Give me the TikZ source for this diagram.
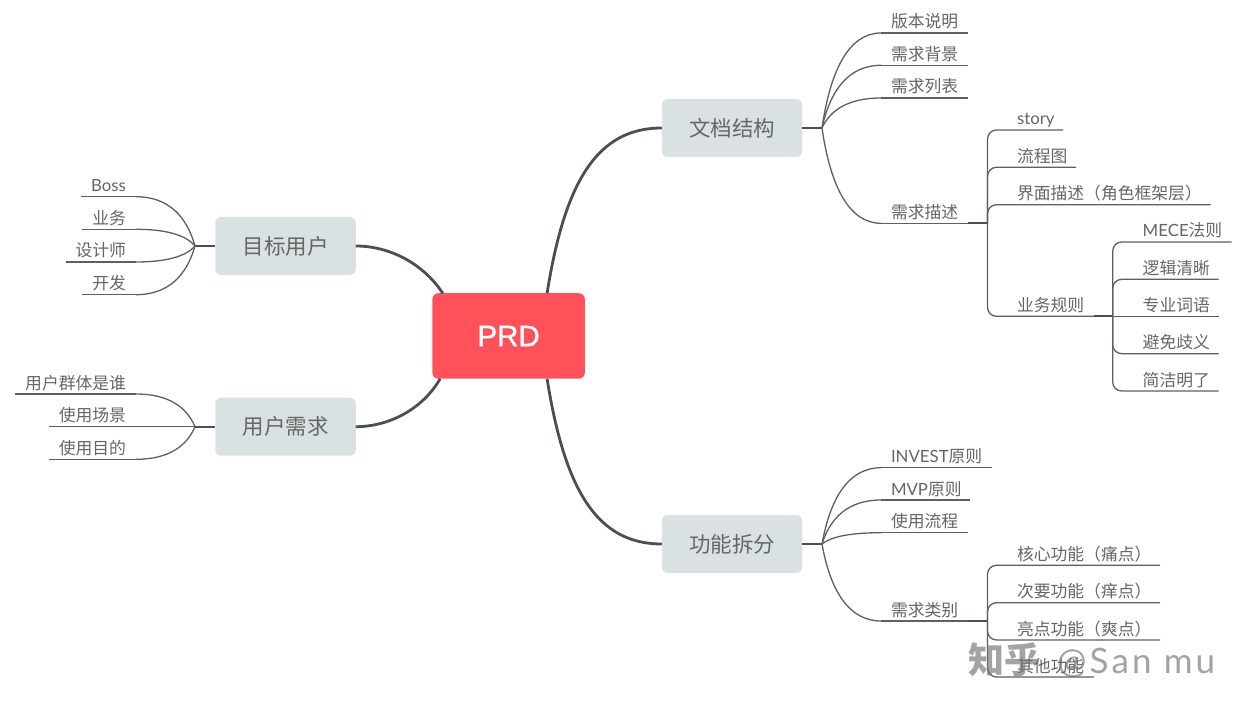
\documentclass[tikz,border=0pt]{standalone}
\usepackage{fontspec}
\setmainfont{Noto Sans CJK SC}
\newfontfamily\latf{Lato}
\newfontfamily\wmf[LetterSpace=9]{Lato}
\newfontfamily\prdf[FakeBold=1.2]{Liberation Sans}
\newcommand{\lat}[1]{{\latf #1}}
\usetikzlibrary{calc}
\definecolor{linec}{HTML}{4A4F57}
\definecolor{leafline}{HTML}{5C6066}
\definecolor{txt}{HTML}{666666}
\definecolor{topicfill}{HTML}{DAE1E3}
\definecolor{rootfill}{HTML}{FF515A}
\tikzset{
  rootbox/.style={fill=rootfill,rounded corners=6,minimum width=152.5,minimum height=85.5,inner sep=0,outer sep=0,text=white,font=\prdf\fontsize{29.5}{32}\selectfont},
  topic/.style={fill=topicfill,rounded corners=6,minimum width=140.5,minimum height=58,inner sep=0,outer sep=0,text=txt,font=\fontsize{21.5}{24}\selectfont},
  leafr/.style={anchor=south west,leafbase},
  leafl/.style={anchor=south east,leafbase},
  leafbase/.style={inner xsep=0,inner ysep=0,outer sep=0,text height=15,text depth=5,text=txt,font=\fontsize{16.8}{19}\selectfont},
  mainl/.style={draw=linec,line width=2.8},
  stub/.style={draw=linec,line width=2},
  leaf/.style={draw=leafline,line width=1.3},
  tree/.style={draw=leafline,line width=1.3,rounded corners=9},
}
\newcommand{\br}[2]{\draw[leaf] let \p1=(#1),\p2=(#2) in (\p1) .. controls ({\x1+0.14*(\x2-\x1)},{\y1+0.6*(\y2-\y1)}) and ({\x1+0.45*(\x2-\x1)},\y2) .. (\p2);}
\begin{document}
\begin{tikzpicture}[x=1pt,y=-1pt]
\useasboundingbox[fill=white] (0,0) rectangle (1250,708);
% central and main topics
\node[rootbox] (prd) at (508.6,336) {PRD};
\node[topic] (doc) at (732,128) {文档结构};
\node[topic] (func) at (732,544) {功能拆分};
\node[topic] (user) at (285.5,246) {目标用户};
\node[topic] (need) at (285.5,426.7) {用户需求};
\draw[mainl] (prd.48.8) .. controls (565,180) and (598,128) .. (doc.west);
\draw[mainl] (prd.-48.8) .. controls (565,492) and (598,544) .. (func.west);
\draw[mainl] (prd.147.3) .. controls (422,262) and (388,246) .. (user.east);
\draw[mainl] (prd.212.7) .. controls (422,410) and (388,426.7) .. (need.east);
% junctions
\coordinate (j1) at (822,128);
\coordinate (j4) at (822,544);
\coordinate (j6) at (195,246);
\coordinate (j7) at (195,426.7);
\coordinate (j2) at (987.5,223.3);
\coordinate (j3) at (1112.7,316.3);
\coordinate (j5) at (987.5,621);
\draw[stub] (doc.east) -- (j1);
\draw[stub] (func.east) -- (j4);
\draw[stub] (user.west) -- (j6);
\draw[stub] (need.west) -- (j7);
% document structure leaves
\node[leafr,text width=67,inner xsep=10] (a1) at (881,33) {版本说明};
\node[leafr,text width=67,inner xsep=10] (a2) at (881,65.3) {需求背景};
\node[leafr,text width=67,inner xsep=10] (a3) at (881,98) {需求列表};
\node[leafr,text width=67,inner xsep=10] (a4) at (881,223.3) {需求描述};
\foreach \q in {a1,a2,a3,a4}{\br{j1}{\q.south west}\draw[leaf] (\q.south west) -- (\q.south east);}
\draw[stub] (a4.south east) -- (j2);
\node[leafr,text width=36,inner xsep=10] (b1) at (1007,130) {\lat{story}};
\node[leafr,text width=49,inner xsep=10] (b2) at (1007,167.3) {流程图};
\node[leafr,text width=183.7,inner xsep=10] (b3) at (1007,204.7) {界面描述（角色框架层）};
\node[leafr,text width=67,inner xsep=10] (b4) at (1007,316.3) {业务规则};
\foreach \q in {b1,b2,b3,b4}{\draw[tree] (j2) |- (\q.south west) -- (\q.south east);}
\draw[stub] (b4.south east) -- (j3);
\node[leafr,text width=79,inner xsep=10] (c1) at (1132.7,242) {\lat{MECE}法则};
\node[leafr,text width=66,inner xsep=10] (c2) at (1132.7,279.3) {逻辑清晰};
\node[leafr,text width=66,inner xsep=10] (c3) at (1132.7,316.3) {专业词语};
\node[leafr,text width=66,inner xsep=10] (c4) at (1132.7,353.7) {避免歧义};
\node[leafr,text width=66,inner xsep=10] (c5) at (1132.7,391) {简洁明了};
\foreach \q in {c1,c2,c4,c5}{\draw[tree] (j3) |- (\q.south west) -- (\q.south east);}
\draw[leaf] (j3) -- (c3.south west) -- (c3.south east);
% function split leaves
\node[leafr,text width=91,inner xsep=10] (d1) at (881,467.7) {\lat{INVEST}原则};
\node[leafr,text width=69,inner xsep=10] (d2) at (881,500) {\lat{MVP}原则};
\node[leafr,text width=67,inner xsep=10] (d3) at (881,532.7) {使用流程};
\node[leafr,text width=67,inner xsep=10] (d4) at (881,621) {需求类别};
\foreach \q in {d1,d2,d3,d4}{\br{j4}{\q.south west}\draw[leaf] (\q.south west) -- (\q.south east);}
\draw[stub] (d4.south east) -- (j5);
\node[leafr,text width=133,inner xsep=10] (e1) at (1007,565.3) {核心功能（痛点）};
\node[leafr,text width=133,inner xsep=10] (e2) at (1007,602.7) {次要功能（痒点）};
\node[leafr,text width=133,inner xsep=10] (e3) at (1007,640) {亮点功能（爽点）};
\node[leafr,text width=67,inner xsep=10] (e4) at (1007,677) {其他功能};
\foreach \q in {e1,e2,e3,e4}{\draw[tree] (j5) |- (\q.south west) -- (\q.south east);}
% left leaves
\node[leafl,align=right,inner xsep=10] (f1) at (136,196.7) {\lat{Boss}};
\node[leafl,align=right,inner xsep=10] (f2) at (136,229.3) {业务};
\node[leafl,align=right,inner xsep=10] (f3) at (136,262) {设计师};
\node[leafl,align=right,inner xsep=10] (f4) at (136,294.7) {开发};
\foreach \q in {f1,f2,f3,f4}{\br{j6}{\q.south east}\draw[leaf] (\q.south east) -- (\q.south west);}
\node[leafl,align=right,inner xsep=10] (g1) at (136,394) {用户群体是谁};
\node[leafl,align=right,inner xsep=10] (g2) at (136,426.7) {使用场景};
\node[leafl,align=right,inner xsep=10] (g3) at (136,459.3) {使用目的};
\foreach \q in {g1,g3}{\br{j7}{\q.south east}\draw[leaf] (\q.south east) -- (\q.south west);}
\draw[leaf] (j7) -- (g2.south east) -- (g2.south west);
% watermark
\node[anchor=west,inner sep=0,text=black!55,opacity=0.65,font=\fontsize{36}{40}\selectfont] (wm) at (968,660) {\bfseries 知乎\hspace{17pt}{\wmf\mdseries\fontsize{35}{40}\selectfont @San mu}};
\end{tikzpicture}
\end{document}
